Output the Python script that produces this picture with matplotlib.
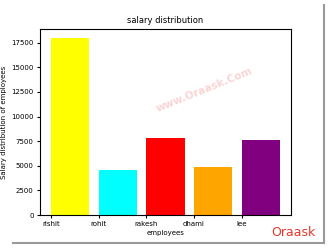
import matplotlib.pyplot as plt

employees = ["rishit", "rohit", "rakesh", "dhami", "lee"]
salary = [18000, 4550, 7850, 4850, 7650]
colors = ["yellow", "cyan", "red", "orange", "purple"]

fig = plt.figure(figsize=(3.3, 2.5), dpi=100)
ax = fig.add_axes([40 / 330, 35 / 250, 251 / 330, 186 / 250])

ax.bar(employees, salary, color=colors, align="edge")
ax.set_title("salary distribution", fontsize=6, pad=4)
ax.set_xlabel("employees", fontsize=5, labelpad=2)
ax.set_ylabel("Salary distribution of employees", fontsize=5, labelpad=3)
ax.tick_params(labelsize=5, length=2.5, pad=2)

# watermark and logo
fig.text(0.62, 0.64, "www.Oraask.Com", color="#f4a0a0", alpha=0.45, fontsize=7.5,
         fontweight="bold", rotation=22, ha="center", va="center")
fig.text(0.955, 0.07, "Oraask", color="#e8372b", fontsize=9, ha="right", va="center")

# screenshot shadow border
fig.add_artist(plt.Line2D([0.982, 0.982], [0.03, 0.98], color="#999999", lw=1.5))
fig.add_artist(plt.Line2D([0.04, 0.982], [0.03, 0.03], color="#999999", lw=1.5))

fig.savefig("out.png", dpi=100)
